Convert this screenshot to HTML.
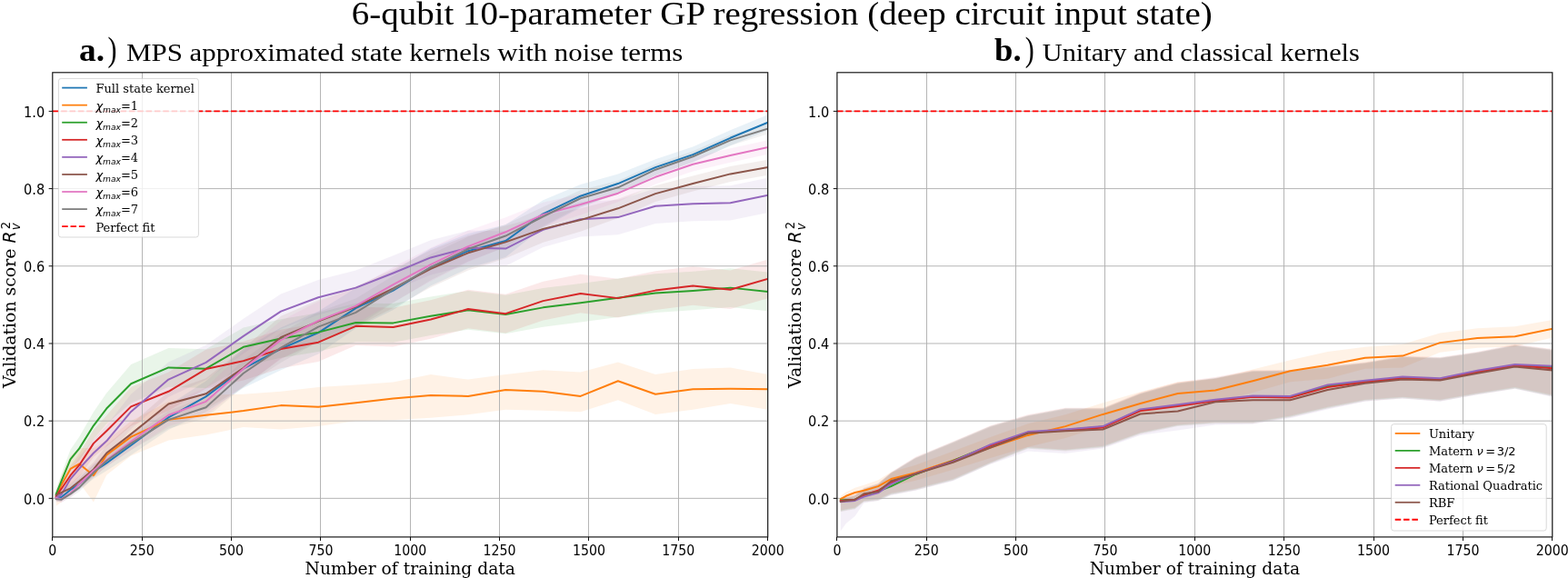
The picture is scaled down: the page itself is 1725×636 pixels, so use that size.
<!DOCTYPE html><html><head><meta charset="utf-8"><title>6-qubit 10-parameter GP regression</title><style>
html,body{margin:0;padding:0;background:#fff;overflow:hidden}svg{display:block}
.tk{font-family:"DejaVu Sans",sans-serif;font-size:14.16px;fill:#000}
.ser{font-family:"DejaVu Serif",serif}
.cm{font-family:"Liberation Serif",serif}
.ds{font-family:"DejaVu Sans",sans-serif}
</style></head><body>
<svg width="1725" height="636" viewBox="0 0 1725 636">
<rect width="1725" height="636" fill="#fff"/>
<defs><clipPath id="clipL"><rect x="57.8" y="79.8" width="786.9" height="511.1"/></clipPath><clipPath id="clipR"><rect x="920.9" y="79.8" width="786.9" height="511.1"/></clipPath></defs>
<g clip-path="url(#clipL)">
<path d="M61.73 550.91 L67.64 551.33 L77.47 544.09 L87.31 538.98 L102.93 526.63 L117.21 518.11 L144.16 500.64 L185.36 472.96 L226.55 453.36 L267.78 426.95 L308.98 407.36 L350.21 389.47 L391.41 361.36 L432.6 340.91 L473.83 314.5 L515.03 295.34 L556.22 282.98 L597.46 250.19 L638.65 228.46 L679.88 212.7 L721.08 193.11 L762.27 178.63 L803.51 160.31 L844.7 143.27 L844.7 126.23 L803.51 143.27 L762.27 161.59 L721.08 175.22 L679.88 191.4 L638.65 202.9 L597.46 220.37 L556.22 247.2 L515.03 257 L473.83 273.61 L432.6 298.32 L391.41 317.06 L350.21 342.62 L308.98 360.51 L267.78 384.36 L226.55 419.29 L185.36 445.7 L144.16 479.35 L117.21 501.07 L102.93 511.29 L87.31 526.2 L77.47 533.87 L67.64 542.81 L61.73 544.09 Z" fill="#1f77b4" fill-opacity="0.1"/>
<path d="M61.73 556.87 L67.64 552.61 L77.47 535.57 L87.31 531.31 L102.93 552.61 L117.21 522.79 L144.16 501.5 L185.36 484.46 L226.55 478.49 L267.78 469.98 L308.98 472.53 L350.21 469.12 L391.41 463.16 L432.6 462.31 L473.83 459.75 L515.03 456.34 L556.22 450.81 L597.46 451.66 L638.65 453.36 L679.88 440.16 L721.08 455.92 L762.27 450.81 L803.51 443.99 L844.7 450.81 L844.7 412.05 L803.51 404.38 L762.27 406.08 L721.08 412.05 L679.88 398.42 L638.65 409.49 L597.46 407.36 L556.22 412.05 L515.03 417.58 L473.83 412.05 L432.6 420.56 L391.41 423.55 L350.21 426.1 L308.98 430.79 L267.78 433.77 L226.55 434.62 L185.36 441.86 L144.16 463.16 L117.21 484.46 L102.93 492.98 L87.31 492.98 L77.47 501.5 L67.64 522.79 L61.73 539.83 Z" fill="#ff7f0e" fill-opacity="0.1"/>
<path d="M61.73 548.78 L67.64 536.85 L77.47 515.98 L87.31 506.18 L102.93 483.18 L117.21 466.57 L144.16 443.57 L185.36 425.68 L226.55 426.95 L267.78 403.1 L308.98 393.73 L350.21 386.91 L391.41 376.27 L432.6 376.69 L473.83 369.03 L515.03 362.64 L556.22 367.32 L597.46 359.65 L638.65 354.54 L679.88 349.01 L721.08 343.89 L762.27 341.34 L803.51 337.93 L844.7 342.19 L844.7 299.6 L803.51 295.34 L762.27 298.74 L721.08 301.3 L679.88 306.41 L638.65 311.95 L597.46 317.06 L556.22 324.73 L515.03 320.04 L473.83 326.43 L432.6 334.1 L391.41 333.67 L350.21 344.32 L308.98 351.14 L267.78 360.51 L226.55 384.36 L185.36 383.08 L144.16 400.97 L117.21 432.49 L102.93 453.36 L87.31 480.62 L77.47 494.68 L67.64 521.52 L61.73 538.55 Z" fill="#2ca02c" fill-opacity="0.1"/>
<path d="M61.73 550.91 L67.64 545.37 L77.47 533.87 L87.31 524.5 L102.93 502.77 L117.21 491.27 L144.16 468.7 L185.36 452.09 L226.55 427.38 L267.78 418.44 L308.98 405.23 L350.21 397.99 L391.41 380.1 L432.6 381.38 L473.83 372.86 L515.03 361.36 L556.22 366.47 L597.46 352.41 L638.65 344.32 L679.88 349.43 L721.08 340.91 L762.27 335.8 L803.51 340.06 L844.7 328.13 L844.7 285.54 L803.51 297.47 L762.27 293.21 L721.08 298.32 L679.88 306.84 L638.65 301.72 L597.46 309.82 L556.22 323.87 L515.03 318.76 L473.83 330.26 L432.6 338.78 L391.41 337.5 L350.21 355.39 L308.98 362.64 L267.78 375.84 L226.55 384.79 L185.36 409.49 L144.16 426.1 L117.21 457.2 L102.93 472.96 L87.31 498.94 L77.47 512.57 L67.64 530.03 L61.73 540.68 Z" fill="#d62728" fill-opacity="0.1"/>
<path d="M61.73 552.61 L67.64 551.76 L77.47 537.7 L87.31 528.33 L102.93 513.42 L117.21 502.35 L144.16 472.1 L185.36 436.75 L226.55 418.01 L267.78 389.04 L308.98 361.78 L350.21 346.45 L391.41 335.8 L432.6 319.61 L473.83 302.58 L515.03 291.93 L556.22 292.78 L597.46 271.91 L638.65 260.41 L679.88 258.28 L721.08 245.93 L762.27 243.37 L803.51 242.52 L844.7 234 L844.7 195.66 L803.51 204.18 L762.27 205.03 L721.08 207.59 L679.88 219.94 L638.65 222.07 L597.46 233.57 L556.22 254.44 L515.03 253.59 L473.83 264.24 L432.6 281.28 L391.41 297.47 L350.21 308.11 L308.98 323.45 L267.78 350.71 L226.55 379.67 L185.36 398.42 L144.16 433.77 L117.21 468.27 L102.93 483.61 L87.31 502.77 L77.47 516.4 L67.64 536.42 L61.73 542.39 Z" fill="#9467bd" fill-opacity="0.1"/>
<path d="M61.73 548.35 L67.64 546.22 L77.47 542.39 L87.31 536 L102.93 524.07 L117.21 507.03 L144.16 488.29 L185.36 458.05 L226.55 450.38 L267.78 426.1 L308.98 394.58 L350.21 377.12 L391.41 359.65 L432.6 338.78 L473.83 316.21 L515.03 297.47 L556.22 284.26 L597.46 266.8 L638.65 254.87 L679.88 239.96 L721.08 222.07 L762.27 210.57 L803.51 199.92 L844.7 192.68 L844.7 175.64 L803.51 182.88 L762.27 193.53 L721.08 204.18 L679.88 218.66 L638.65 229.31 L597.46 236.98 L556.22 248.48 L515.03 259.13 L473.83 275.32 L432.6 296.19 L391.41 315.36 L350.21 330.26 L308.98 347.73 L267.78 383.51 L226.55 416.31 L185.36 430.79 L144.16 466.99 L117.21 489.99 L102.93 508.74 L87.31 523.22 L77.47 532.16 L67.64 537.7 L61.73 541.53 Z" fill="#8c564b" fill-opacity="0.1"/>
<path d="M61.73 550.99 L67.64 553.04 L77.47 547.41 L87.31 538.34 L102.93 524.58 L117.21 513.85 L144.16 495.32 L185.36 469.04 L226.55 457.2 L267.78 424.82 L308.98 395.22 L350.21 373.92 L391.41 356.59 L432.6 332.39 L473.83 309.48 L515.03 288.31 L556.22 271.4 L597.46 249.55 L638.65 236.55 L679.88 222.29 L721.08 202.86 L762.27 188.42 L803.51 178.63 L844.7 169.68 L844.7 154.35 L803.51 163.29 L762.27 173.09 L721.08 186.76 L679.88 203.12 L638.65 213.55 L597.46 222.71 L556.22 239.2 L515.03 253.81 L473.83 272.68 L432.6 294.06 L391.41 316.72 L350.21 331.75 L308.98 353.05 L267.78 386.49 L226.55 426.53 L185.36 444.5 L144.16 476.15 L117.21 498.51 L102.93 510.78 L87.31 526.84 L77.47 538.21 L67.64 545.37 L61.73 544.86 Z" fill="#e377c2" fill-opacity="0.1"/>
<path d="M61.73 551.59 L67.64 552.61 L77.47 547.24 L87.31 540.9 L102.93 525.6 L117.21 513 L144.16 495.32 L185.36 471.42 L226.55 460.18 L267.78 425.68 L308.98 399.05 L350.21 376.05 L391.41 359.4 L432.6 333.25 L473.83 308.37 L515.03 287.46 L556.22 272.08 L597.46 248.69 L638.65 227.18 L679.88 213.77 L721.08 192.98 L762.27 178.2 L803.51 160.31 L844.7 147.53 L844.7 135.6 L803.51 148.38 L762.27 166.27 L721.08 180.46 L679.88 198.86 L638.65 209.29 L597.46 227.82 L556.22 247.03 L515.03 260.62 L473.83 279.75 L432.6 303.43 L391.41 328.39 L350.21 343.26 L308.98 366.26 L267.78 395.86 L226.55 436.33 L185.36 452.34 L144.16 480.41 L117.21 501.07 L102.93 514.87 L87.31 531.95 L77.47 540.09 L67.64 546.65 L61.73 546.82 Z" fill="#7f7f7f" fill-opacity="0.1"/>
<path d="M57.5 79.8V590.9M156.5 79.8V590.9M254.5 79.8V590.9M352.5 79.8V590.9M451.5 79.8V590.9M549.5 79.8V590.9M647.5 79.8V590.9M746.5 79.8V590.9M844.5 79.8V590.9M57.8 548.35H844.7M57.8 463.16H844.7M57.8 377.97H844.7M57.8 292.78H844.7M57.8 207.59H844.7M57.8 122.4H844.7" stroke="#b0b0b0" stroke-width="0.94" fill="none"/>
<path d="M61.73 547.5 L67.64 547.07 L77.47 538.98 L87.31 532.59 L102.93 518.96 L117.21 509.59 L144.16 489.99 L185.36 459.33 L226.55 436.33 L267.78 405.66 L308.98 383.93 L350.21 366.04 L391.41 339.21 L432.6 319.61 L473.83 294.06 L515.03 276.17 L556.22 265.09 L597.46 235.28 L638.65 215.68 L679.88 202.05 L721.08 184.16 L762.27 170.11 L803.51 151.79 L844.7 134.75" stroke="#1f77b4" stroke-width="2.0" fill="none" stroke-linejoin="round" stroke-linecap="square"/>
<path d="M61.73 546.65 L67.64 533.44 L77.47 515.98 L87.31 510.44 L102.93 523.22 L117.21 500.64 L144.16 480.62 L185.36 461.88 L226.55 456.77 L267.78 452.09 L308.98 446.12 L350.21 447.83 L391.41 443.14 L432.6 438.45 L473.83 435.05 L515.03 435.9 L556.22 429.08 L597.46 430.79 L638.65 435.9 L679.88 419.29 L721.08 433.77 L762.27 428.23 L803.51 427.81 L844.7 428.23" stroke="#ff7f0e" stroke-width="2.0" fill="none" stroke-linejoin="round" stroke-linecap="square"/>
<path d="M61.73 543.66 L67.64 529.18 L77.47 505.33 L87.31 493.4 L102.93 468.27 L117.21 449.53 L144.16 422.27 L185.36 404.38 L226.55 405.66 L267.78 381.8 L308.98 372.43 L350.21 365.62 L391.41 354.97 L432.6 355.39 L473.83 347.73 L515.03 341.34 L556.22 346.02 L597.46 338.36 L638.65 333.25 L679.88 327.71 L721.08 322.6 L762.27 320.04 L803.51 316.63 L844.7 320.89" stroke="#2ca02c" stroke-width="2.0" fill="none" stroke-linejoin="round" stroke-linecap="square"/>
<path d="M61.73 545.79 L67.64 537.7 L77.47 523.22 L87.31 511.72 L102.93 487.87 L117.21 474.23 L144.16 447.4 L185.36 430.79 L226.55 406.08 L267.78 397.14 L308.98 383.93 L350.21 376.69 L391.41 358.8 L432.6 360.08 L473.83 351.56 L515.03 340.06 L556.22 345.17 L597.46 331.12 L638.65 323.02 L679.88 328.13 L721.08 319.61 L762.27 314.5 L803.51 318.76 L844.7 306.84" stroke="#d62728" stroke-width="2.0" fill="none" stroke-linejoin="round" stroke-linecap="square"/>
<path d="M61.73 547.5 L67.64 544.09 L77.47 527.05 L87.31 515.55 L102.93 498.51 L117.21 485.31 L144.16 452.94 L185.36 417.58 L226.55 398.84 L267.78 369.88 L308.98 342.62 L350.21 327.28 L391.41 316.63 L432.6 300.45 L473.83 283.41 L515.03 272.76 L556.22 273.61 L597.46 252.74 L638.65 241.24 L679.88 239.11 L721.08 226.76 L762.27 224.2 L803.51 223.35 L844.7 214.83" stroke="#9467bd" stroke-width="2.0" fill="none" stroke-linejoin="round" stroke-linecap="square"/>
<path d="M61.73 544.94 L67.64 541.96 L77.47 537.28 L87.31 529.61 L102.93 516.4 L117.21 498.51 L144.16 477.64 L185.36 444.42 L226.55 433.34 L267.78 404.8 L308.98 371.15 L350.21 353.69 L391.41 337.5 L432.6 317.49 L473.83 295.76 L515.03 278.3 L556.22 266.37 L597.46 251.89 L638.65 242.09 L679.88 229.31 L721.08 213.13 L762.27 202.05 L803.51 191.4 L844.7 184.16" stroke="#8c564b" stroke-width="2.0" fill="none" stroke-linejoin="round" stroke-linecap="square"/>
<path d="M61.73 547.92 L67.64 549.2 L77.47 542.81 L87.31 532.59 L102.93 517.68 L117.21 506.18 L144.16 485.74 L185.36 456.77 L226.55 441.86 L267.78 405.66 L308.98 374.14 L350.21 352.84 L391.41 336.65 L432.6 313.23 L473.83 291.08 L515.03 271.06 L556.22 255.3 L597.46 236.13 L638.65 225.05 L679.88 212.7 L721.08 194.81 L762.27 180.76 L803.51 170.96 L844.7 162.01" stroke="#e377c2" stroke-width="2.0" fill="none" stroke-linejoin="round" stroke-linecap="square"/>
<path d="M61.73 549.2 L67.64 549.63 L77.47 543.66 L87.31 536.42 L102.93 520.24 L117.21 507.03 L144.16 487.87 L185.36 461.88 L226.55 448.25 L267.78 410.77 L308.98 382.66 L350.21 359.65 L391.41 343.89 L432.6 318.34 L473.83 294.06 L515.03 274.04 L556.22 259.56 L597.46 238.26 L638.65 218.24 L679.88 206.31 L721.08 186.72 L762.27 172.24 L803.51 154.35 L844.7 141.57" stroke="#7f7f7f" stroke-width="2.0" fill="none" stroke-linejoin="round" stroke-linecap="square"/>
<path d="M57.8 122.4H844.7" stroke="#ff0000" stroke-width="1.77" fill="none" stroke-dasharray="6.52 2.82" stroke-dashoffset="-0.05"/>
</g>
<rect x="57.8" y="79.8" width="786.9" height="511.1" fill="none" stroke="#1a1a1a" stroke-width="1.2"/>
<path d="M57.5 590.9v4.13M156.5 590.9v4.13M254.5 590.9v4.13M352.5 590.9v4.13M451.5 590.9v4.13M549.5 590.9v4.13M647.5 590.9v4.13M746.5 590.9v4.13M844.5 590.9v4.13M57.8 548.35h-4.13M57.8 463.16h-4.13M57.8 377.97h-4.13M57.8 292.78h-4.13M57.8 207.59h-4.13M57.8 122.4h-4.13" stroke="#000" stroke-width="0.94" fill="none"/>
<text class="tk" transform="translate(57.8 611.1) scale(1 1.06)" text-anchor="middle">0</text>
<text class="tk" transform="translate(156.16 611.1) scale(1 1.06)" text-anchor="middle">250</text>
<text class="tk" transform="translate(254.53 611.1) scale(1 1.06)" text-anchor="middle">500</text>
<text class="tk" transform="translate(352.89 611.1) scale(1 1.06)" text-anchor="middle">750</text>
<text class="tk" transform="translate(451.25 611.1) scale(1 1.06)" text-anchor="middle">1000</text>
<text class="tk" transform="translate(549.61 611.1) scale(1 1.06)" text-anchor="middle">1250</text>
<text class="tk" transform="translate(647.98 611.1) scale(1 1.06)" text-anchor="middle">1500</text>
<text class="tk" transform="translate(746.34 611.1) scale(1 1.06)" text-anchor="middle">1750</text>
<text class="tk" transform="translate(844.7 611.1) scale(1 1.06)" text-anchor="middle">2000</text>
<text class="tk" transform="translate(49.2 554.65) scale(1.03 1.06)" text-anchor="end">0.0</text>
<text class="tk" transform="translate(49.2 469.46) scale(1.03 1.06)" text-anchor="end">0.2</text>
<text class="tk" transform="translate(49.2 384.27) scale(1.03 1.06)" text-anchor="end">0.4</text>
<text class="tk" transform="translate(49.2 299.08) scale(1.03 1.06)" text-anchor="end">0.6</text>
<text class="tk" transform="translate(49.2 213.89) scale(1.03 1.06)" text-anchor="end">0.8</text>
<text class="tk" transform="translate(49.2 128.7) scale(1.03 1.06)" text-anchor="end">1.0</text>
<g clip-path="url(#clipR)">
<path d="M924.83 552.61 L930.74 550.05 L940.57 547.07 L950.41 545.79 L966.03 541.96 L980.31 534.72 L1007.26 528.76 L1048.46 516.83 L1089.65 504.05 L1130.88 491.7 L1172.08 481.9 L1213.31 468.7 L1254.51 456.77 L1295.7 445.7 L1336.93 442.29 L1378.13 432.07 L1419.32 420.14 L1460.56 416.73 L1501.75 405.66 L1542.98 404.38 L1584.18 387.77 L1625.37 382.66 L1666.61 381.38 L1707.8 371.58 L1707.8 351.99 L1666.61 359.23 L1625.37 361.36 L1584.18 366.47 L1542.98 378.82 L1501.75 381.8 L1460.56 386.91 L1419.32 396.29 L1378.13 406.51 L1336.93 416.73 L1295.7 420.14 L1254.51 431.21 L1213.31 443.14 L1172.08 456.34 L1130.88 466.14 L1089.65 481.05 L1048.46 496.38 L1007.26 511.72 L980.31 519.39 L966.03 528.33 L950.41 533.87 L940.57 536.85 L930.74 541.53 L924.83 545.79 Z" fill="#ff7f0e" fill-opacity="0.1"/>
<path d="M924.83 562.41 L930.74 561.13 L940.57 559.42 L950.41 551.76 L966.03 550.05 L980.31 543.66 L1007.26 538.55 L1048.46 527.9 L1089.65 509.59 L1130.88 492.98 L1172.08 495.53 L1213.31 491.7 L1254.51 476.79 L1295.7 468.27 L1336.93 465.29 L1378.13 465.29 L1419.32 458.47 L1460.56 448.68 L1501.75 440.58 L1542.98 437.6 L1584.18 440.58 L1625.37 433.34 L1666.61 426.95 L1707.8 435.47 L1707.8 384.79 L1666.61 379.67 L1625.37 387.77 L1584.18 393.73 L1542.98 392.45 L1501.75 399.27 L1460.56 403.53 L1419.32 407.79 L1378.13 408.21 L1336.93 415.88 L1295.7 421.42 L1254.51 432.92 L1213.31 449.53 L1172.08 449.53 L1130.88 457.2 L1089.65 469.12 L1048.46 486.59 L1007.26 503.63 L980.31 520.24 L966.03 532.59 L950.41 537.7 L940.57 544.94 L930.74 547.5 L924.83 548.35 Z" fill="#2ca02c" fill-opacity="0.1"/>
<path d="M924.83 561.55 L930.74 560.28 L940.57 558.57 L950.41 550.91 L966.03 549.2 L980.31 542.81 L1007.26 537.7 L1048.46 527.05 L1089.65 508.74 L1130.88 492.12 L1172.08 494.68 L1213.31 490.85 L1254.51 475.94 L1295.7 467.42 L1336.93 464.44 L1378.13 464.44 L1419.32 457.62 L1460.56 447.83 L1501.75 439.73 L1542.98 436.75 L1584.18 439.73 L1625.37 432.49 L1666.61 426.1 L1707.8 434.62 L1707.8 383.93 L1666.61 378.82 L1625.37 386.91 L1584.18 392.88 L1542.98 391.6 L1501.75 398.42 L1460.56 402.68 L1419.32 406.93 L1378.13 407.36 L1336.93 415.03 L1295.7 420.56 L1254.51 432.07 L1213.31 448.68 L1172.08 448.68 L1130.88 456.34 L1089.65 468.27 L1048.46 485.74 L1007.26 502.77 L980.31 519.39 L966.03 531.74 L950.41 536.85 L940.57 544.09 L930.74 546.65 L924.83 547.5 Z" fill="#d62728" fill-opacity="0.1"/>
<path d="M924.83 584.13 L930.74 576.04 L940.57 567.94 L950.41 553.46 L966.03 550.91 L980.31 544.94 L1007.26 539.83 L1048.46 529.18 L1089.65 510.87 L1130.88 496.38 L1172.08 498.94 L1213.31 493.4 L1254.51 478.92 L1295.7 473.38 L1336.93 467.42 L1378.13 466.57 L1419.32 460.18 L1460.56 450.38 L1501.75 441.86 L1542.98 438.45 L1584.18 441.86 L1625.37 434.2 L1666.61 427.81 L1707.8 436.75 L1707.8 384.79 L1666.61 379.67 L1625.37 387.77 L1584.18 393.73 L1542.98 392.45 L1501.75 399.27 L1460.56 403.53 L1419.32 407.79 L1378.13 408.21 L1336.93 415.88 L1295.7 421.42 L1254.51 432.92 L1213.31 449.53 L1172.08 449.53 L1130.88 457.2 L1089.65 469.12 L1048.46 486.59 L1007.26 503.63 L980.31 520.24 L966.03 532.59 L950.41 537.7 L940.57 544.94 L930.74 547.5 L924.83 548.35 Z" fill="#9467bd" fill-opacity="0.1"/>
<path d="M924.83 563.26 L930.74 561.98 L940.57 560.28 L950.41 552.61 L966.03 550.91 L980.31 544.52 L1007.26 539.41 L1048.46 528.76 L1089.65 510.44 L1130.88 493.83 L1172.08 496.38 L1213.31 492.55 L1254.51 477.64 L1295.7 469.12 L1336.93 466.14 L1378.13 466.14 L1419.32 459.33 L1460.56 449.53 L1501.75 441.44 L1542.98 438.45 L1584.18 441.44 L1625.37 434.2 L1666.61 427.81 L1707.8 436.33 L1707.8 385.64 L1666.61 380.53 L1625.37 388.62 L1584.18 394.58 L1542.98 393.3 L1501.75 400.12 L1460.56 404.38 L1419.32 408.64 L1378.13 409.06 L1336.93 416.73 L1295.7 422.27 L1254.51 433.77 L1213.31 450.38 L1172.08 450.38 L1130.88 458.05 L1089.65 469.98 L1048.46 487.44 L1007.26 504.48 L980.31 521.09 L966.03 533.44 L950.41 538.55 L940.57 545.79 L930.74 548.35 L924.83 549.2 Z" fill="#8c564b" fill-opacity="0.1"/>
<path d="M920.5 79.8V590.9M1019.5 79.8V590.9M1117.5 79.8V590.9M1215.5 79.8V590.9M1314.5 79.8V590.9M1412.5 79.8V590.9M1511.5 79.8V590.9M1609.5 79.8V590.9M1707.5 79.8V590.9M920.9 548.35H1707.8M920.9 463.16H1707.8M920.9 377.97H1707.8M920.9 292.78H1707.8M920.9 207.59H1707.8M920.9 122.4H1707.8" stroke="#b0b0b0" stroke-width="0.94" fill="none"/>
<path d="M924.83 549.2 L930.74 545.79 L940.57 541.96 L950.41 539.83 L966.03 535.15 L980.31 527.05 L1007.26 520.24 L1048.46 506.61 L1089.65 492.55 L1130.88 478.92 L1172.08 469.12 L1213.31 455.92 L1254.51 443.99 L1295.7 432.92 L1336.93 429.51 L1378.13 419.29 L1419.32 408.21 L1460.56 401.82 L1501.75 393.73 L1542.98 391.6 L1584.18 377.12 L1625.37 372.01 L1666.61 370.3 L1707.8 361.78" stroke="#ff7f0e" stroke-width="2.0" fill="none" stroke-linejoin="round" stroke-linecap="square"/>
<path d="M924.83 550.48 L930.74 550.05 L940.57 549.63 L950.41 544.94 L966.03 540.68 L980.31 535.15 L1007.26 521.94 L1048.46 507.03 L1089.65 489.99 L1130.88 475.94 L1172.08 472.96 L1213.31 469.55 L1254.51 451.23 L1295.7 446.12 L1336.93 440.58 L1378.13 436.33 L1419.32 436.75 L1460.56 424.82 L1501.75 419.71 L1542.98 415.45 L1584.18 417.16 L1625.37 408.64 L1666.61 401.82 L1707.8 403.53" stroke="#2ca02c" stroke-width="2.0" fill="none" stroke-linejoin="round" stroke-linecap="square"/>
<path d="M924.83 550.91 L930.74 550.48 L940.57 549.63 L950.41 544.52 L966.03 539.83 L980.31 530.89 L1007.26 521.09 L1048.46 507.46 L1089.65 490.42 L1130.88 475.94 L1172.08 473.38 L1213.31 470.4 L1254.51 452.09 L1295.7 446.97 L1336.93 441.01 L1378.13 436.75 L1419.32 437.6 L1460.56 426.1 L1501.75 420.56 L1542.98 416.31 L1584.18 417.58 L1625.37 409.49 L1666.61 402.25 L1707.8 405.23" stroke="#d62728" stroke-width="2.0" fill="none" stroke-linejoin="round" stroke-linecap="square"/>
<path d="M924.83 552.18 L930.74 551.76 L940.57 550.91 L950.41 546.65 L966.03 542.39 L980.31 532.59 L1007.26 521.09 L1048.46 507.88 L1089.65 489.14 L1130.88 475.09 L1172.08 472.53 L1213.31 469.12 L1254.51 450.38 L1295.7 445.27 L1336.93 439.73 L1378.13 435.47 L1419.32 435.9 L1460.56 423.55 L1501.75 418.86 L1542.98 414.6 L1584.18 416.31 L1625.37 407.79 L1666.61 400.97 L1707.8 402.68" stroke="#9467bd" stroke-width="2.0" fill="none" stroke-linejoin="round" stroke-linecap="square"/>
<path d="M924.83 551.76 L930.74 550.91 L940.57 550.05 L950.41 543.24 L966.03 541.11 L980.31 529.18 L1007.26 521.52 L1048.46 508.74 L1089.65 492.55 L1130.88 476.79 L1172.08 474.23 L1213.31 472.53 L1254.51 455.49 L1295.7 452.51 L1336.93 442.29 L1378.13 440.16 L1419.32 440.16 L1460.56 429.08 L1501.75 421.84 L1542.98 417.58 L1584.18 418.44 L1625.37 410.77 L1666.61 403.53 L1707.8 407.36" stroke="#8c564b" stroke-width="2.0" fill="none" stroke-linejoin="round" stroke-linecap="square"/>
<path d="M920.9 122.4H1707.8" stroke="#ff0000" stroke-width="1.77" fill="none" stroke-dasharray="6.52 2.82" stroke-dashoffset="-0.1"/>
</g>
<rect x="920.9" y="79.8" width="786.9" height="511.1" fill="none" stroke="#1a1a1a" stroke-width="1.2"/>
<path d="M920.5 590.9v4.13M1019.5 590.9v4.13M1117.5 590.9v4.13M1215.5 590.9v4.13M1314.5 590.9v4.13M1412.5 590.9v4.13M1511.5 590.9v4.13M1609.5 590.9v4.13M1707.5 590.9v4.13M920.9 548.35h-4.13M920.9 463.16h-4.13M920.9 377.97h-4.13M920.9 292.78h-4.13M920.9 207.59h-4.13M920.9 122.4h-4.13" stroke="#000" stroke-width="0.94" fill="none"/>
<text class="tk" transform="translate(920.9 611.1) scale(1 1.06)" text-anchor="middle">0</text>
<text class="tk" transform="translate(1019.26 611.1) scale(1 1.06)" text-anchor="middle">250</text>
<text class="tk" transform="translate(1117.62 611.1) scale(1 1.06)" text-anchor="middle">500</text>
<text class="tk" transform="translate(1215.99 611.1) scale(1 1.06)" text-anchor="middle">750</text>
<text class="tk" transform="translate(1314.35 611.1) scale(1 1.06)" text-anchor="middle">1000</text>
<text class="tk" transform="translate(1412.71 611.1) scale(1 1.06)" text-anchor="middle">1250</text>
<text class="tk" transform="translate(1511.07 611.1) scale(1 1.06)" text-anchor="middle">1500</text>
<text class="tk" transform="translate(1609.44 611.1) scale(1 1.06)" text-anchor="middle">1750</text>
<text class="tk" transform="translate(1707.8 611.1) scale(1 1.06)" text-anchor="middle">2000</text>
<text class="tk" transform="translate(912.3 554.65) scale(1.03 1.06)" text-anchor="end">0.0</text>
<text class="tk" transform="translate(912.3 469.46) scale(1.03 1.06)" text-anchor="end">0.2</text>
<text class="tk" transform="translate(912.3 384.27) scale(1.03 1.06)" text-anchor="end">0.4</text>
<text class="tk" transform="translate(912.3 299.08) scale(1.03 1.06)" text-anchor="end">0.6</text>
<text class="tk" transform="translate(912.3 213.89) scale(1.03 1.06)" text-anchor="end">0.8</text>
<text class="tk" transform="translate(912.3 128.7) scale(1.03 1.06)" text-anchor="end">1.0</text>
<text class="ser" x="451.25" y="631.6" text-anchor="middle" font-size="18.88" textLength="231.4" lengthAdjust="spacingAndGlyphs">Number of training data</text>
<text class="ser" x="1314.35" y="631.6" text-anchor="middle" font-size="18.88" textLength="231.4" lengthAdjust="spacingAndGlyphs">Number of training data</text>
<text transform="translate(17.4 427.0) rotate(-90)" font-size="18.88"><tspan class="ser">Validation score </tspan><tspan class="ds" font-style="italic">R</tspan><tspan class="ds" font-style="italic" font-size="13.2" dx="1.2" dy="5">v</tspan><tspan class="ds" font-size="13.2" dx="-6.7" dy="-11.8">2</tspan></text>
<text transform="translate(880.5 427.0) rotate(-90)" font-size="18.88"><tspan class="ser">Validation score </tspan><tspan class="ds" font-style="italic">R</tspan><tspan class="ds" font-style="italic" font-size="13.2" dx="1.2" dy="5">v</tspan><tspan class="ds" font-size="13.2" dx="-6.7" dy="-11.8">2</tspan></text>
<text class="cm" x="386.8" y="26.7" font-size="35.4" textLength="947" lengthAdjust="spacingAndGlyphs">6-qubit 10-parameter GP regression (deep circuit input state)</text>
<text class="cm" x="87.1" y="67.1" font-size="36" font-weight="bold" textLength="28" lengthAdjust="spacingAndGlyphs">a.</text>
<text class="cm" transform="translate(118.6 67.4) scale(0.8 1)" font-size="37.5">)</text>
<text class="cm" x="139" y="67.1" font-size="28.3" textLength="612.4" lengthAdjust="spacingAndGlyphs">MPS approximated state kernels with noise terms</text>
<text class="cm" x="1094.1" y="67.1" font-size="36" font-weight="bold" textLength="29.5" lengthAdjust="spacingAndGlyphs">b.</text>
<text class="cm" transform="translate(1127.8 67.4) scale(0.8 1)" font-size="37.5">)</text>
<text class="cm" x="1146.8" y="66.7" font-size="28.3" textLength="349" lengthAdjust="spacingAndGlyphs">Unitary and classical kernels</text>
<rect x="64.4" y="86.4" width="154" height="174.6" rx="2.8" fill="#fff" fill-opacity="0.8" stroke="#cccccc" stroke-opacity="0.8" stroke-width="0.94"/>
<path d="M68.2 96.6H95.9" stroke="#1f77b4" stroke-width="1.77"/>
<text x="105.4" y="102" font-size="13"><tspan class="ser">Full state kernel</tspan></text>
<path d="M68.2 115.67H95.9" stroke="#ff7f0e" stroke-width="1.77"/>
<text x="105.4" y="121.07" font-size="13"><tspan class="ds" font-style="italic">χ</tspan><tspan class="ds" font-style="italic" font-size="9.1" dy="2.6">max</tspan><tspan class="ser" dy="-2.6">=1</tspan></text>
<path d="M68.2 134.74H95.9" stroke="#2ca02c" stroke-width="1.77"/>
<text x="105.4" y="140.14" font-size="13"><tspan class="ds" font-style="italic">χ</tspan><tspan class="ds" font-style="italic" font-size="9.1" dy="2.6">max</tspan><tspan class="ser" dy="-2.6">=2</tspan></text>
<path d="M68.2 153.81H95.9" stroke="#d62728" stroke-width="1.77"/>
<text x="105.4" y="159.21" font-size="13"><tspan class="ds" font-style="italic">χ</tspan><tspan class="ds" font-style="italic" font-size="9.1" dy="2.6">max</tspan><tspan class="ser" dy="-2.6">=3</tspan></text>
<path d="M68.2 172.88H95.9" stroke="#9467bd" stroke-width="1.77"/>
<text x="105.4" y="178.28" font-size="13"><tspan class="ds" font-style="italic">χ</tspan><tspan class="ds" font-style="italic" font-size="9.1" dy="2.6">max</tspan><tspan class="ser" dy="-2.6">=4</tspan></text>
<path d="M68.2 191.95H95.9" stroke="#8c564b" stroke-width="1.77"/>
<text x="105.4" y="197.35" font-size="13"><tspan class="ds" font-style="italic">χ</tspan><tspan class="ds" font-style="italic" font-size="9.1" dy="2.6">max</tspan><tspan class="ser" dy="-2.6">=5</tspan></text>
<path d="M68.2 211.02H95.9" stroke="#e377c2" stroke-width="1.77"/>
<text x="105.4" y="216.42" font-size="13"><tspan class="ds" font-style="italic">χ</tspan><tspan class="ds" font-style="italic" font-size="9.1" dy="2.6">max</tspan><tspan class="ser" dy="-2.6">=6</tspan></text>
<path d="M68.2 230.09H95.9" stroke="#7f7f7f" stroke-width="1.77"/>
<text x="105.4" y="235.49" font-size="13"><tspan class="ds" font-style="italic">χ</tspan><tspan class="ds" font-style="italic" font-size="9.1" dy="2.6">max</tspan><tspan class="ser" dy="-2.6">=7</tspan></text>
<path d="M68.2 249.16H95.9" stroke="#ff0000" stroke-width="1.77" stroke-dasharray="6.52 2.82"/>
<text x="105.4" y="254.56" font-size="13"><tspan class="ser">Perfect fit</tspan></text>
<rect x="1530.6" y="466.7" width="170.6" height="117.3" rx="2.8" fill="#fff" fill-opacity="0.8" stroke="#cccccc" stroke-opacity="0.8" stroke-width="0.94"/>
<path d="M1534.7 476.9H1562.3" stroke="#ff7f0e" stroke-width="1.77"/>
<text x="1571.9" y="482.3" font-size="13"><tspan class="ser">Unitary</tspan></text>
<path d="M1534.7 495.87H1562.3" stroke="#2ca02c" stroke-width="1.77"/>
<text x="1571.9" y="501.27" font-size="13"><tspan class="ser">Matern </tspan><tspan class="ds" font-style="italic">ν</tspan><tspan class="ds" dx="2.3">=</tspan><tspan class="ds" dx="1.6">3/2</tspan></text>
<path d="M1534.7 514.84H1562.3" stroke="#d62728" stroke-width="1.77"/>
<text x="1571.9" y="520.24" font-size="13"><tspan class="ser">Matern </tspan><tspan class="ds" font-style="italic">ν</tspan><tspan class="ds" dx="2.3">=</tspan><tspan class="ds" dx="1.6">5/2</tspan></text>
<path d="M1534.7 533.81H1562.3" stroke="#9467bd" stroke-width="1.77"/>
<text x="1571.9" y="539.21" font-size="13"><tspan class="ser">Rational Quadratic</tspan></text>
<path d="M1534.7 552.78H1562.3" stroke="#8c564b" stroke-width="1.77"/>
<text x="1571.9" y="558.18" font-size="13"><tspan class="ser">RBF</tspan></text>
<path d="M1534.7 571.75H1562.3" stroke="#ff0000" stroke-width="1.77" stroke-dasharray="6.52 2.82"/>
<text x="1571.9" y="577.15" font-size="13"><tspan class="ser">Perfect fit</tspan></text>
</svg></body></html>
